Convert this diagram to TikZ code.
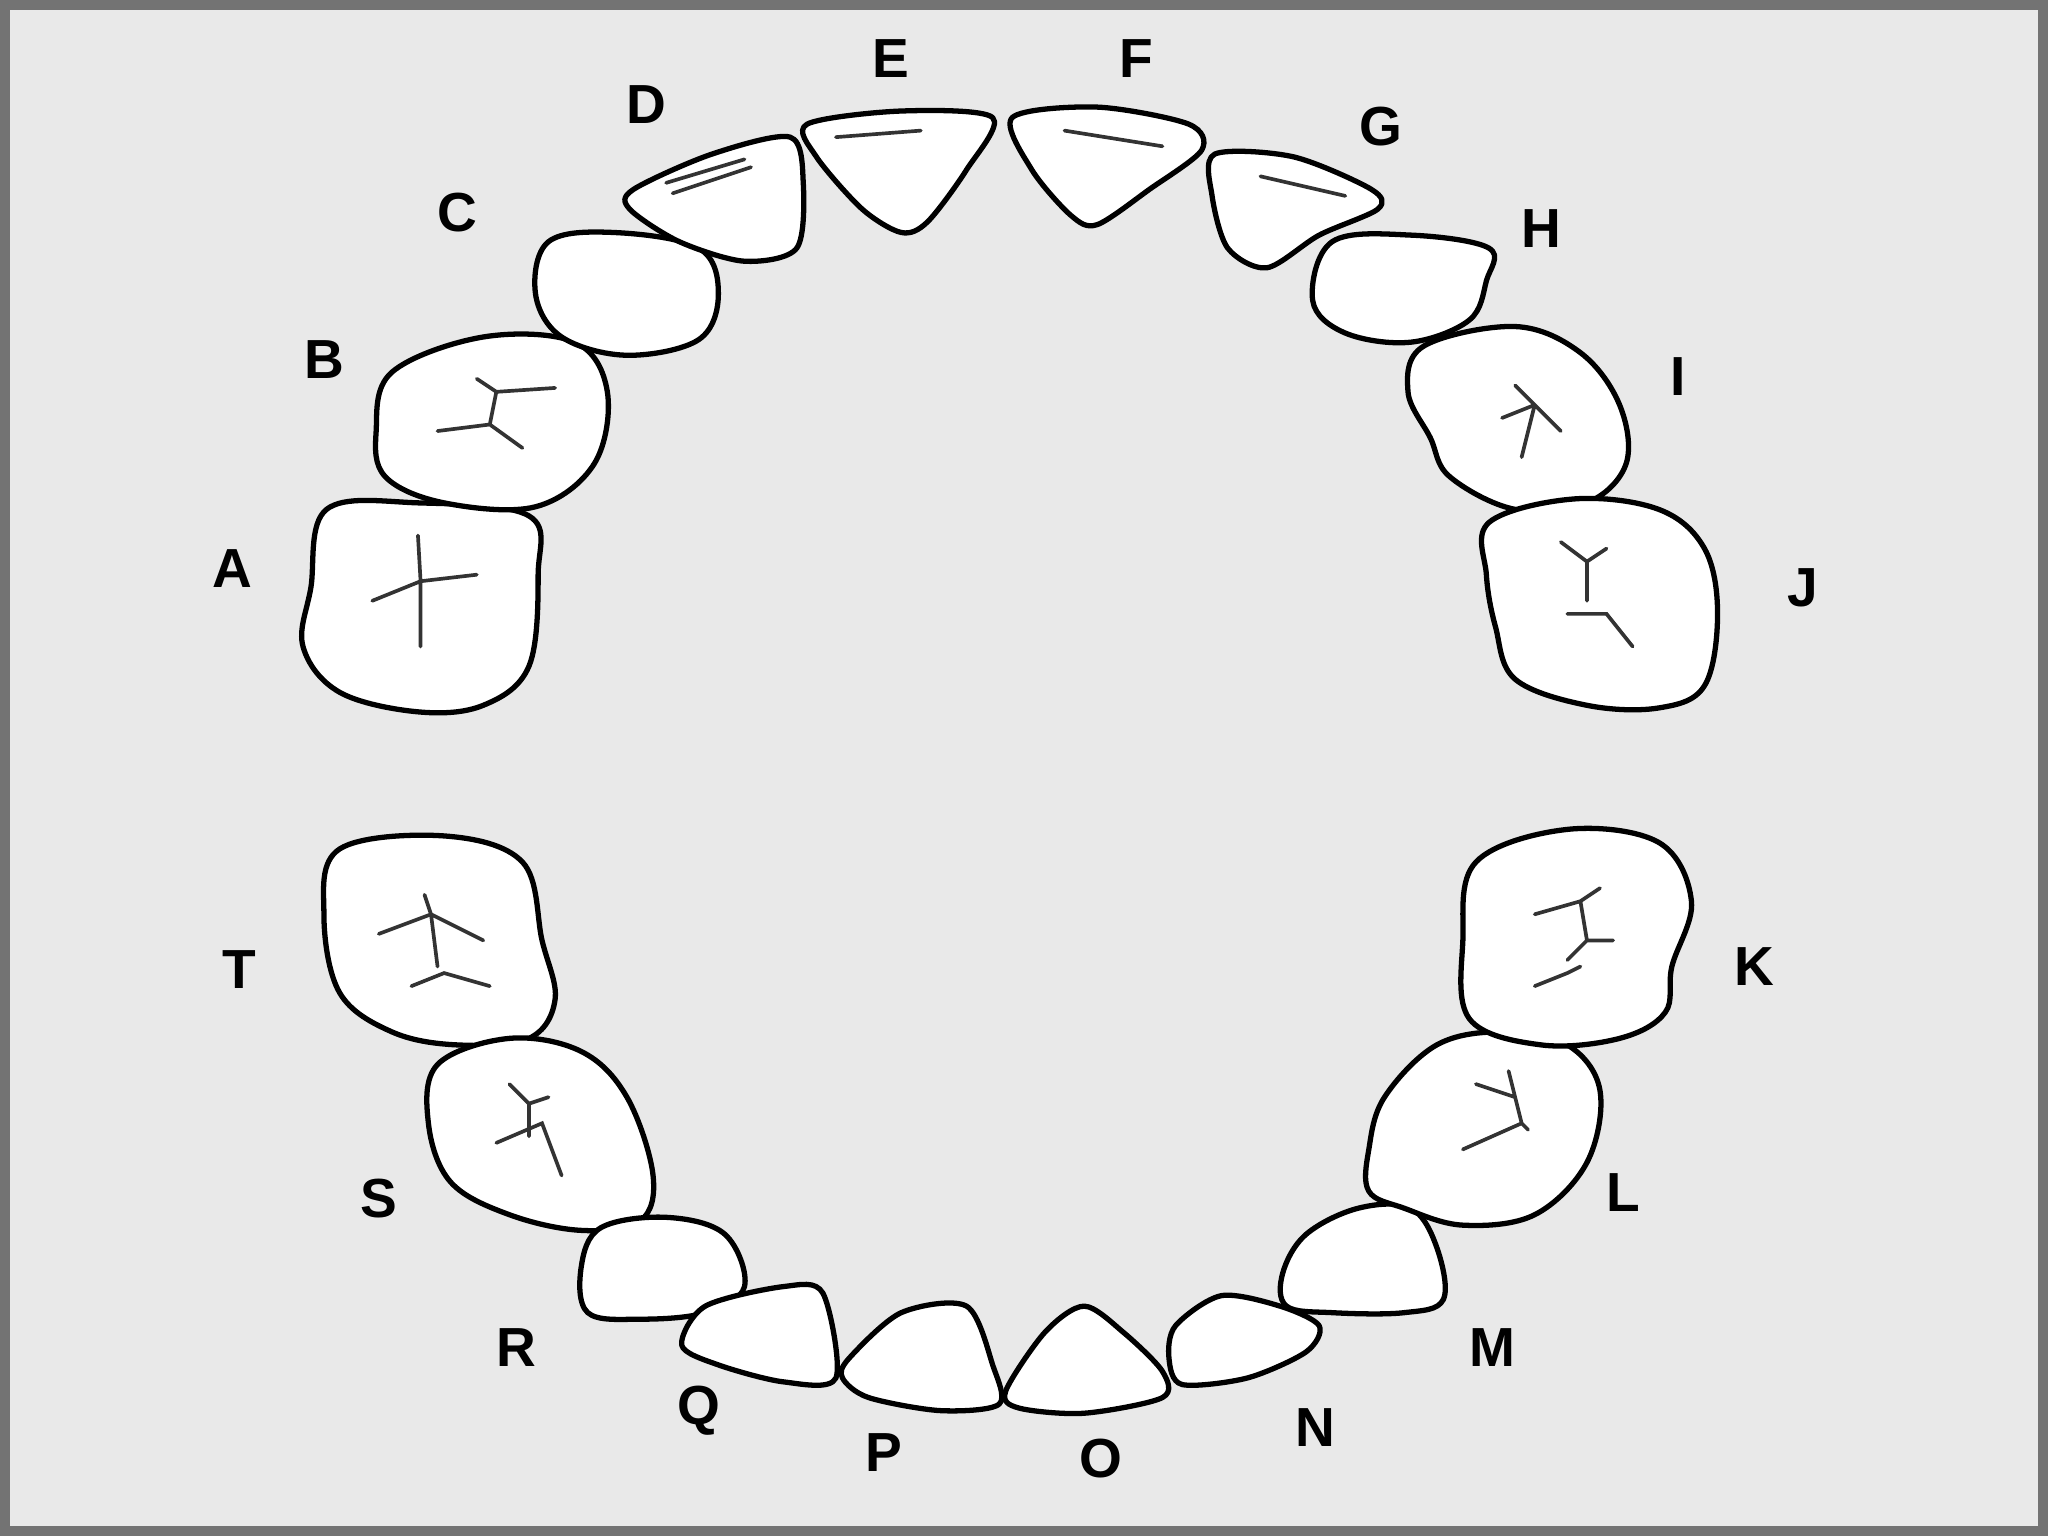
\documentclass[tikz,border=0pt]{standalone}
\usepackage{fontspec}
\setmainfont{Liberation Sans}
\begin{document}
\begin{tikzpicture}[x=0.02cm,y=-0.02cm,
  tooth/.style={draw=black,fill=white,line width=2.3pt,line join=round},
  fis/.style={draw=black!80,line width=1.6pt,line cap=round},
  lab/.style={font=\fontsize{24}{28}\selectfont\bfseries}]
\fill[black!55] (0,0) rectangle (1568,1176);
\fill[gray!17] (8,8) rectangle (1560,1168);
\useasboundingbox (0,0) rectangle (1568,1176);
% upper
\draw[tooth] plot[smooth cycle,tension=0.6] coordinates{(250,390)(320,385)(405,395)(412,440)(405,510)(370,540)(320,545)(260,530)(232,495)(238,450)};
\draw[fis] (320,410)--(322,445)--(322,495) (285,460)--(322,445)--(365,440);
\draw[tooth] plot[smooth cycle,tension=0.6] coordinates{(300,285)(370,258)(440,262)(465,300)(455,355)(410,388)(340,385)(295,365)(288,330)};
\draw[fis] (365,290)--(380,300)--(425,297) (380,300)--(375,325) (335,330)--(375,325)--(400,343);
\draw[tooth] plot[smooth cycle,tension=0.6] coordinates{(420,185)(470,178)(535,190)(550,225)(535,260)(480,272)(430,258)(410,225)};
\draw[tooth] plot[smooth cycle,tension=0.5] coordinates{(485,145)(545,118)(605,105)(615,140)(610,190)(570,200)(520,185)(482,160)};
\draw[fis] (515,148)--(575,128) (510,140)--(570,122);
\draw[tooth] plot[smooth cycle,tension=0.5] coordinates{(618,95)(690,85)(760,90)(740,130)(710,170)(690,178)(660,160)(625,120)};
\draw[fis] (640,105)--(705,100);
\draw[tooth] plot[smooth cycle,tension=0.5] coordinates{(775,90)(840,82)(910,95)(920,115)(880,145)(840,172)(820,165)(790,130)};
\draw[fis] (815,100)--(890,112);
\draw[tooth] plot[smooth cycle,tension=0.5] coordinates{(930,118)(990,120)(1050,145)(1055,160)(1010,180)(970,205)(940,190)(928,150)};
\draw[fis] (965,135)--(1030,150);
\draw[tooth] plot[smooth cycle,tension=0.6] coordinates{(1020,185)(1080,180)(1140,190)(1138,215)(1125,245)(1080,262)(1030,255)(1005,230)};
\draw[tooth] plot[smooth cycle,tension=0.6] coordinates{(1090,265)(1160,250)(1210,270)(1240,310)(1245,355)(1215,385)(1160,390)(1110,365)(1095,335)(1078,300)};
\draw[fis] (1150,320)--(1175,310)--(1195,330) (1160,295)--(1175,310)--(1165,350);
\draw[tooth] plot[smooth cycle,tension=0.6] coordinates{(1140,400)(1205,382)(1270,390)(1305,420)(1315,470)(1305,525)(1270,542)(1215,540)(1160,520)(1145,480)(1138,440)};
\draw[fis] (1195,415)--(1215,430)--(1230,420) (1215,430)--(1215,460) (1200,470)--(1230,470)--(1250,495);
% lower
\draw[tooth] plot[smooth cycle,tension=0.6] coordinates{(260,650)(340,640)(400,660)(415,720)(425,765)(405,795)(350,800)(300,790)(260,760)(248,700)};
\draw[fis] (290,715)--(330,700)--(370,720) (325,685)--(330,700)--(335,740) (315,755)--(340,745)--(375,755);
\draw[tooth] plot[smooth cycle,tension=0.6] coordinates{(335,815)(390,795)(445,805)(480,840)(500,900)(490,935)(445,942)(390,930)(345,905)(328,860)};
\draw[fis] (390,830)--(405,845)--(420,840) (405,845)--(405,870) (380,875)--(415,860)--(430,900);
\draw[tooth] plot[smooth cycle,tension=0.6] coordinates{(460,940)(510,932)(555,945)(570,985)(540,1005)(490,1010)(450,1005)(445,970)};
\draw[tooth] plot[smooth cycle,tension=0.5] coordinates{(540,1000)(600,985)(630,990)(640,1055)(600,1058)(550,1045)(522,1030)};
\draw[tooth] plot[smooth cycle,tension=0.5] coordinates{(650,1040)(690,1005)(740,1000)(760,1045)(765,1075)(720,1080)(665,1070)(645,1055)};
\draw[tooth] plot[smooth cycle,tension=0.5] coordinates{(770,1065)(800,1020)(830,1000)(860,1020)(890,1050)(890,1070)(830,1082)(780,1078)};
\draw[tooth] plot[smooth cycle,tension=0.5] coordinates{(900,1015)(935,992)(980,1000)(1010,1015)(1000,1035)(955,1055)(905,1060)(895,1040)};
\draw[tooth] plot[smooth cycle,tension=0.6] coordinates{(1000,945)(1040,925)(1080,925)(1100,955)(1105,995)(1075,1005)(1020,1005)(985,1000)(982,975)};
\draw[tooth] plot[smooth cycle,tension=0.6] coordinates{(1060,840)(1100,800)(1150,790)(1200,800)(1225,835)(1215,890)(1175,930)(1120,938)(1075,925)(1048,912)(1048,880)};
\draw[fis] (1130,830)--(1160,840)--(1165,860) (1155,820)--(1160,840) (1120,880)--(1165,860)--(1170,865);
\draw[tooth] plot[smooth cycle,tension=0.6] coordinates{(1130,660)(1200,635)(1270,645)(1295,690)(1280,740)(1275,775)(1240,795)(1180,800)(1125,780)(1120,720)};
\draw[fis] (1175,700)--(1210,690)--(1225,680) (1210,690)--(1215,720)--(1235,720) (1200,735)--(1215,720) (1175,755)--(1200,745)--(1210,740);
% labels
\node[lab] (lA) at (178,435) {A};
\node[lab] (lB) at (248,275) {B};
\node[lab] (lC) at (350,163) {C};
\node[lab] (lD) at (495,80) {D};
\node[lab] (lE) at (682,45) {E};
\node[lab] (lF) at (870,45) {F};
\node[lab] (lG) at (1057,97) {G};
\node[lab] (lH) at (1180,175) {H};
\node[lab] (lI) at (1285,288) {I};
\node[lab] (lJ) at (1380,450) {J};
\node[lab] (lK) at (1343,740) {K};
\node[lab] (lL) at (1243,913) {L};
\node[lab] (lM) at (1143,1032) {M};
\node[lab] (lN) at (1007,1093) {N};
\node[lab] (lO) at (843,1117) {O};
\node[lab] (lP) at (677,1112) {P};
\node[lab] (lQ) at (535,1080) {Q};
\node[lab] (lR) at (395,1032) {R};
\node[lab] (lS) at (290,918) {S};
\node[lab] (lT) at (183,742) {T};
\end{tikzpicture}
\end{document}
